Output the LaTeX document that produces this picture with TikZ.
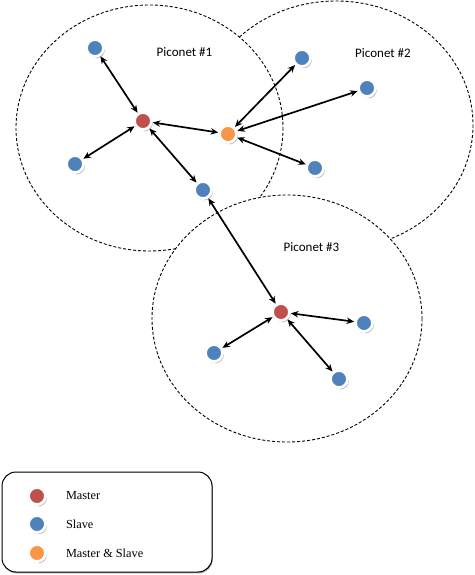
\documentclass[tikz,border=0pt]{standalone}
\usepackage{fontspec}
\setmainfont{Liberation Serif}
\newfontfamily\calfont{Carlito}
\usetikzlibrary{arrows.meta,shadows}

\tikzset{
  dev/.style={circle,fill=#1,draw=white,line width=2.8pt,minimum size=17pt,inner sep=0pt,
    drop shadow={shadow xshift=1.4pt,shadow yshift=-1.8pt,fill=black!40,opacity=0.7}},
  link/.style={{Stealth[length=7.5pt,width=6.5pt]}-{Stealth[length=7.5pt,width=6.5pt]},line width=1.7pt},
  rangeline/.style={dash pattern=on 3pt off 2pt,line width=0.9pt,fill=white},
  netlabel/.style={font=\calfont\fontsize{13}{15}\selectfont},
  keytext/.style={font=\fontsize{12.3}{14}\selectfont,anchor=west}
}
\definecolor{mred}{HTML}{C0504D}
\definecolor{sblue}{HTML}{4F81BD}
\definecolor{msorange}{HTML}{F79646}

\begin{document}
\begin{tikzpicture}[x=1pt,y=-1pt]
\useasboundingbox (0,0) rectangle (474,575);
% piconet ranges (later ones cover the earlier ones)
\draw[rangeline] (336,125) ellipse [x radius=137, y radius=124];
\draw[rangeline] (149.5,128) ellipse [x radius=133.5, y radius=123];
\draw[rangeline] (287,318.5) ellipse [x radius=135, y radius=123.5];
\node[netlabel] (lbl1) at (184.5,52) {Piconet \#1};
\node[netlabel] (lbl2) at (383,53) {Piconet \#2};
\node[netlabel] (lbl3) at (311.5,247) {Piconet \#3};
% piconet 1
\node[dev=mred] (m1) at (143,121) {};
\node[dev=msorange] (ms) at (228,134) {};
\node[dev=sblue] (s1a) at (95,48) {};
\node[dev=sblue] (s1b) at (75,164) {};
\node[dev=sblue] (s1c) at (203,190) {};
% piconet 2
\node[dev=sblue] (s2a) at (302,58) {};
\node[dev=sblue] (s2b) at (367,88) {};
\node[dev=sblue] (s2c) at (315,168) {};
% piconet 3
\node[dev=mred] (m3) at (281,312) {};
\node[dev=sblue] (s3a) at (364,323) {};
\node[dev=sblue] (s3b) at (214,353) {};
\node[dev=sblue] (s3c) at (339,379) {};
% links
\foreach \a/\b in {m1/s1a, m1/s1b, m1/s1c, m1/ms, ms/s2a, ms/s2b, ms/s2c, s1c/m3, m3/s3a, m3/s3b, m3/s3c}
  \draw[link] (\a) -- (\b);
% legend
\draw[line width=1pt,rounded corners=14pt,fill=white,
  drop shadow={shadow xshift=0.8pt,shadow yshift=-1.4pt,fill=black!70}] (2,472) rectangle (212,572);
\node[dev=mred] (km) at (37,496) {};
\node[dev=sblue] (ks) at (37,524) {};
\node[dev=msorange] (kms) at (37,553) {};
\node[keytext] (tm) at (62.5,496) {Master};
\node[keytext] (ts) at (62.5,524) {Slave};
\node[keytext] (tms) at (62.5,553) {Master \& Slave};
\end{tikzpicture}
\end{document}
